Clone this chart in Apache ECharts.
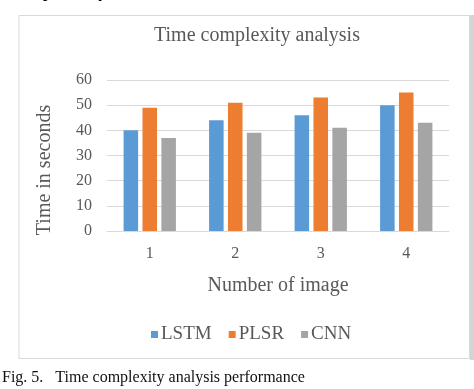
<!DOCTYPE html>
<html>
<head>
<meta charset="utf-8">
<script src="https://cdn.jsdelivr.net/npm/echarts@6/dist/echarts.min.js"></script>
<style>
html,body{margin:0;padding:0;background:#fff;}
#c{width:474px;height:389px;}
</style>
</head>
<body>
<div id="c"></div>
<script>
var categories = ['1', '2', '3', '4'];
var seriesNames = ['LSTM', 'PLSR', 'CNN'];
var lstm = [40, 44, 46, 50];
var plsr = [49, 51, 53, 55];
var cnn = [37, 39, 41, 43];
var yTicks = [0, 10, 20, 30, 40, 50, 60];
var colors = ['#5B9BD5', '#ED7D31', '#A5A5A5'];
var serif = '"Liberation Serif", "DejaVu Serif", serif';

var chart = echarts.init(document.getElementById('c'), null, {renderer: 'canvas'});
var values = [lstm, plsr, cnn];
chart.setOption({
  animation: false,
  backgroundColor: '#fff',
  title: {
    text: 'Time complexity analysis',
    left: 252, top: 21, textAlign: 'center',
    textStyle: {fontFamily: serif, fontSize: 20, fontWeight: 'normal', color: '#595959'}
  },
  legend: {
    data: seriesNames,
    left: 146, top: 320,
    itemWidth: 7, itemHeight: 7, itemGap: 17,
    icon: 'rect',
    textStyle: {fontFamily: serif, fontSize: 19, color: '#595959', padding: [0, 0, 0, -2]}
  },
  grid: {left: 107, right: 25, top: 80, bottom: 158},
  xAxis: {
    type: 'category', data: categories,
    name: 'Number of image', nameLocation: 'middle', nameGap: 45,
    nameTextStyle: {fontFamily: serif, fontSize: 20, color: '#595959'},
    axisLine: {lineStyle: {color: '#d9d9d9', width: 1}},
    axisTick: {show: false},
    axisLabel: {fontFamily: serif, fontSize: 16, color: '#595959', margin: 15}
  },
  yAxis: {
    type: 'value', min: yTicks[0], max: yTicks[yTicks.length - 1], interval: 10,
    axisLine: {show: false}, axisTick: {show: false},
    splitLine: {lineStyle: {color: '#d9d9d9', width: 1}},
    axisLabel: {fontFamily: serif, fontSize: 16, color: '#595959', margin: 15}
  },
  series: seriesNames.map(function (n, i) {
    return {
      name: n, type: 'bar', data: values[i],
      barWidth: '17%', barGap: '30%',
      itemStyle: {color: colors[i]}
    };
  }),
  graphic: [
    {type: 'rect', shape: {x: 19, y: 15.5, width: 450.5, height: 343}, style: {fill: 'none', stroke: '#d9d9d9', lineWidth: 1}, silent: true},
    {type: 'rect', shape: {x: 470, y: 15, width: 4, height: 345}, style: {fill: '#d4d4d4'}, silent: true},
    {type: 'text', x: 45, y: 170, rotation: Math.PI / 2,
      style: {text: 'Time in seconds', fontFamily: serif, fontSize: 20, fill: '#595959', align: 'center', verticalAlign: 'middle'}},
    {type: 'text', x: 31, y: 1,
      style: {text: 'ity comp', fontFamily: '"Liberation Sans", Arial, sans-serif', fontWeight: 'bold', fontSize: 19, fill: '#000', align: 'left', verticalAlign: 'bottom'}},
    {type: 'text', x: 2, y: 378,
      style: {text: 'Fig. 5.   Time complexity analysis performance', fontFamily: serif, fontSize: 16, fill: '#111', align: 'left', verticalAlign: 'middle'}}
  ]
});
</script>
</body>
</html>
